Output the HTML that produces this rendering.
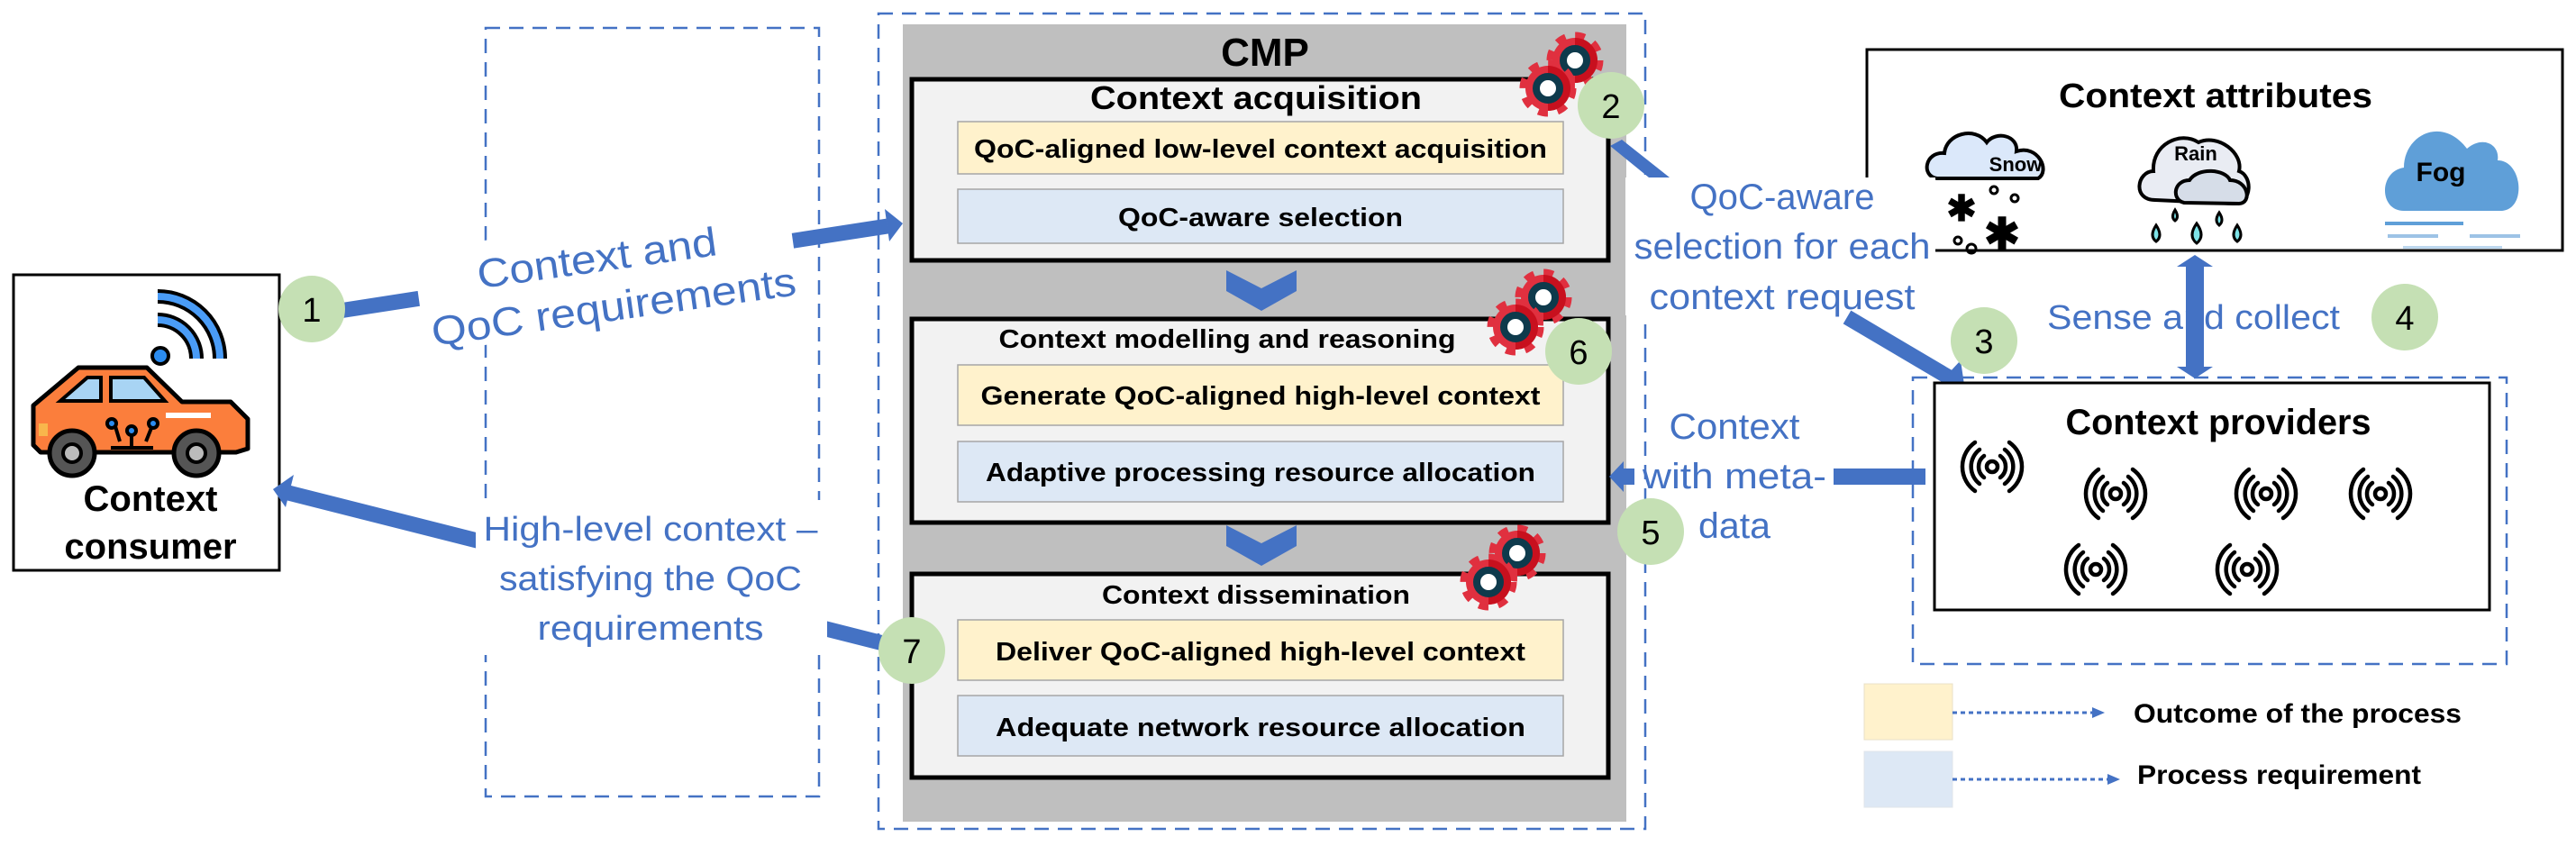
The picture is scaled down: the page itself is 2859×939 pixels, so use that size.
<!DOCTYPE html>
<html><head><meta charset="utf-8"><style>
html,body{margin:0;padding:0;background:#fff}
svg{display:block}
text{font-family:"Liberation Sans",sans-serif}
.b{font-weight:bold;fill:#000}
.bl{fill:#4472c4}
</style></head><body>
<svg width="2859" height="939" viewBox="0 0 2859 939" xmlns="http://www.w3.org/2000/svg">
<defs>
<g id="gear">
  <circle r="27" fill="none" stroke="#e0303f" stroke-width="9" stroke-dasharray="10.6 10.6"/>
  <circle r="25" fill="#e0303f"/>
  <path d="M0,-25 A25,25 0 0 1 0,25 Z" fill="#c8101e"/>
  <circle r="13" fill="#fff" stroke="#0e3a4c" stroke-width="8"/>
</g>
<g id="ant" fill="none" stroke="#000" stroke-width="4.5" stroke-linecap="round">
  <circle r="6"/>
  <path d="M9,-12 A15,15 0 0 1 9,12 M-9,-12 A15,15 0 0 0 -9,12"/>
  <path d="M14,-19 A24,24 0 0 1 14,19 M-14,-19 A24,24 0 0 0 -14,19"/>
  <path d="M19,-27 A33,33 0 0 1 19,27 M-19,-27 A33,33 0 0 0 -19,27"/>
</g>
</defs>

<!-- Left dashed box -->
<rect x="539" y="31" width="370" height="853" fill="none" stroke="#4472c4" stroke-width="2.5" stroke-dasharray="16 10"/>
<!-- CMP dashed box -->
<rect x="975" y="15" width="851" height="905" fill="none" stroke="#4472c4" stroke-width="2.5" stroke-dasharray="16 10"/>
<!-- gray panel -->
<rect x="1002" y="27" width="803" height="885" fill="#bfbfbf"/>
<text x="1404" y="73" class="b" font-size="44" text-anchor="middle">CMP</text>

<!-- Box 1 -->
<rect x="1012" y="88" width="773" height="201" fill="#f2f2f2" stroke="#000" stroke-width="5"/>
<text x="1394" y="121" class="b" font-size="36" text-anchor="middle" textLength="368" lengthAdjust="spacingAndGlyphs">Context acquisition</text>
<rect x="1063" y="135" width="672" height="58" fill="#fff2cc" stroke="#a6a6a6" stroke-width="1.5"/>
<text x="1399" y="175" class="b" font-size="29" text-anchor="middle" textLength="636" lengthAdjust="spacingAndGlyphs">QoC-aligned low-level context acquisition</text>
<rect x="1063" y="210" width="672" height="60" fill="#dde8f5" stroke="#a6a6a6" stroke-width="1.5"/>
<text x="1399" y="251" class="b" font-size="29" text-anchor="middle" textLength="316" lengthAdjust="spacingAndGlyphs">QoC-aware selection</text>

<!-- chevron 1 -->
<polygon points="1361,300 1400,320 1439,300 1439,323 1400,345 1361,323" fill="#4472c4"/>

<!-- Box 2 -->
<rect x="1012" y="354" width="773" height="226" fill="#f2f2f2" stroke="#000" stroke-width="5"/>
<text x="1362" y="386" class="b" font-size="29" text-anchor="middle" textLength="507" lengthAdjust="spacingAndGlyphs">Context modelling and reasoning</text>
<rect x="1063" y="405" width="672" height="67" fill="#fff2cc" stroke="#a6a6a6" stroke-width="1.5"/>
<text x="1399" y="449" class="b" font-size="29" text-anchor="middle" textLength="621" lengthAdjust="spacingAndGlyphs">Generate QoC-aligned high-level context</text>
<rect x="1063" y="490" width="672" height="67" fill="#dde8f5" stroke="#a6a6a6" stroke-width="1.5"/>
<text x="1399" y="534" class="b" font-size="29" text-anchor="middle" textLength="610" lengthAdjust="spacingAndGlyphs">Adaptive processing resource allocation</text>

<!-- chevron 2 -->
<polygon points="1361,583 1400,603 1439,583 1439,606 1400,628 1361,606" fill="#4472c4"/>

<!-- Box 3 -->
<rect x="1012" y="637" width="773" height="226" fill="#f2f2f2" stroke="#000" stroke-width="5"/>
<text x="1394" y="670" class="b" font-size="29" text-anchor="middle" textLength="342" lengthAdjust="spacingAndGlyphs">Context dissemination</text>
<rect x="1063" y="688" width="672" height="67" fill="#fff2cc" stroke="#a6a6a6" stroke-width="1.5"/>
<text x="1399" y="733" class="b" font-size="29" text-anchor="middle" textLength="588" lengthAdjust="spacingAndGlyphs">Deliver QoC-aligned high-level context</text>
<rect x="1063" y="772" width="672" height="67" fill="#dde8f5" stroke="#a6a6a6" stroke-width="1.5"/>
<text x="1399" y="817" class="b" font-size="29" text-anchor="middle" textLength="588" lengthAdjust="spacingAndGlyphs">Adequate network resource allocation</text>

<!-- gears -->
<use href="#gear" x="1748" y="67"/>
<use href="#gear" x="1718" y="98"/>
<use href="#gear" x="1713" y="330"/>
<use href="#gear" x="1682" y="363"/>
<use href="#gear" x="1684" y="614"/>
<use href="#gear" x="1652" y="646"/>

<!-- Consumer box -->
<rect x="15" y="305" width="295" height="328" fill="#fff" stroke="#000" stroke-width="3"/>
<!-- wifi -->
<circle cx="178" cy="395" r="9" fill="#2b8cf0" stroke="#000" stroke-width="4"/>
<path d="M175,329 A69,69 0 0 1 244,398" fill="none" stroke="#000" stroke-width="16"/>
<path d="M175,329 A69,69 0 0 1 244,398" fill="none" stroke="#4a9cf7" stroke-width="8"/>
<path d="M175,355 A43,43 0 0 1 218,398" fill="none" stroke="#000" stroke-width="16"/>
<path d="M175,355 A43,43 0 0 1 218,398" fill="none" stroke="#4a9cf7" stroke-width="8"/>
<!-- car -->
<path d="M37,450 L87,408 L163,408 L202,446 L256,446 L275,465 L275,498 L262,502 L45,502 L37,494 Z" fill="#fb7e3c" stroke="#000" stroke-width="5" stroke-linejoin="round"/>
<path d="M67,445 L97,419 L112,419 L112,445 Z" fill="#a8d4f4" stroke="#000" stroke-width="4"/>
<path d="M123,419 L160,419 L183,445 L123,445 Z" fill="#a8d4f4" stroke="#000" stroke-width="4"/>
<rect x="43" y="470" width="10" height="14" fill="#f8b64c"/>
<rect x="184" y="458" width="50" height="6" fill="#fff"/>
<g stroke="#000" stroke-width="4" fill="#2b8cf0">
<path d="M123,497 L170,497 M146,497 L146,478 M127,470 L133,490 M170,470 L162,490" fill="none"/>
<circle cx="124" cy="470" r="5"/><circle cx="146" cy="478" r="5"/><circle cx="170" cy="470" r="5"/>
</g>
<circle cx="80" cy="503" r="25" fill="#555" stroke="#000" stroke-width="5"/>
<circle cx="80" cy="503" r="10" fill="#bbb" stroke="#000" stroke-width="4"/>
<circle cx="218" cy="503" r="25" fill="#555" stroke="#000" stroke-width="5"/>
<circle cx="218" cy="503" r="10" fill="#bbb" stroke="#000" stroke-width="4"/>
<text x="167" y="567" class="b" font-size="40" text-anchor="middle">Context</text>
<text x="167" y="620" class="b" font-size="40" text-anchor="middle">consumer</text>

<!-- Arrow 1: consumer -> CMP -->
<line x1="370" y1="346" x2="985" y2="251" stroke="#4472c4" stroke-width="17"/>
<polygon points="1002,248 982,232 987,268" fill="#4472c4"/>
<!-- text bg -->
<g transform="rotate(-8 677 318)">
<rect x="465" y="248" width="420" height="115" fill="#fff"/>
<text x="667" y="300" class="bl" font-size="45" text-anchor="middle" textLength="268" lengthAdjust="spacingAndGlyphs">Context and</text>
<text x="678" y="356" class="bl" font-size="45" text-anchor="middle" textLength="408" lengthAdjust="spacingAndGlyphs">QoC requirements</text>
</g>

<!-- Arrow 7: CMP -> consumer -->
<line x1="1000" y1="719" x2="320" y2="547" stroke="#4472c4" stroke-width="17"/>
<polygon points="303,543 326,527 317,563" fill="#4472c4"/>
<rect x="528" y="555" width="390" height="172" fill="#fff"/>
<text x="722" y="600" class="bl" font-size="38" text-anchor="middle" textLength="371" lengthAdjust="spacingAndGlyphs">High-level context –</text>
<text x="722" y="655" class="bl" font-size="38" text-anchor="middle" textLength="336" lengthAdjust="spacingAndGlyphs">satisfying the QoC</text>
<text x="722" y="710" class="bl" font-size="38" text-anchor="middle" textLength="251" lengthAdjust="spacingAndGlyphs">requirements</text>

<!-- Context attributes box -->
<rect x="2072" y="55" width="772" height="223" fill="#fff" stroke="#000" stroke-width="3"/>
<text x="2459" y="119" class="b" font-size="38" text-anchor="middle" textLength="348" lengthAdjust="spacingAndGlyphs">Context attributes</text>
<!-- snow -->
<path d="M2150,198 C2132,196 2136,168 2158,170 C2160,148 2192,140 2205,158 C2215,145 2240,150 2238,168 C2262,160 2276,190 2262,198 Z" fill="#dbe8fa" stroke="#000" stroke-width="4"/>
<text x="2237" y="190" font-size="22" class="b" text-anchor="middle">Snow</text>
<text x="2177" y="245" font-size="40" class="b" text-anchor="middle">✱</text>
<text x="2222" y="276" font-size="48" class="b" text-anchor="middle">✱</text>
<circle cx="2213" cy="211" r="4" fill="none" stroke="#000" stroke-width="3"/>
<circle cx="2236" cy="220" r="4" fill="none" stroke="#000" stroke-width="3"/>
<circle cx="2173" cy="267" r="4" fill="none" stroke="#000" stroke-width="3"/>
<circle cx="2188" cy="276" r="5" fill="none" stroke="#000" stroke-width="3"/>
<!-- rain -->
<path d="M2392,222 C2366,222 2372,190 2390,190 C2388,160 2420,145 2440,158 C2462,148 2490,170 2485,190 C2500,195 2500,225 2480,226 Z" fill="#e9ecf3" stroke="#000" stroke-width="4"/>
<path d="M2424,225 C2410,222 2412,200 2430,200 C2440,185 2470,188 2475,200 C2495,200 2500,225 2485,226 Z" fill="#d6dde8" stroke="#000" stroke-width="4"/>
<text x="2437" y="178" font-size="22" class="b" text-anchor="middle">Rain</text>
<g fill="#7de3e8" stroke="#000" stroke-width="3">
<path d="M2393,250 q-8,12 0,18 q8,-6 0,-18z"/>
<path d="M2438,248 q-10,14 0,22 q10,-8 0,-22z"/>
<path d="M2483,250 q-8,12 0,18 q8,-6 0,-18z"/>
<path d="M2414,233 q-5,8 0,12 q5,-4 0,-12z"/>
<path d="M2463,236 q-6,9 0,14 q6,-5 0,-14z"/>
</g>
<!-- fog -->
<path d="M2668,234 C2640,234 2640,190 2668,186 C2668,150 2710,128 2738,165 C2755,150 2775,160 2772,178 C2800,178 2805,234 2775,234 Z" fill="#5f9fd8"/>
<text x="2709" y="201" class="b" font-size="30" text-anchor="middle">Fog</text>
<rect x="2647" y="246" width="87" height="4" fill="#5f9fd8"/>
<rect x="2650" y="260" width="56" height="4" fill="#9dc3e6"/>
<rect x="2741" y="260" width="56" height="4" fill="#9dc3e6"/>
<rect x="2667" y="273" width="110" height="3" fill="#bdd7ee"/>

<!-- QoC-aware label -->
<rect x="1804" y="197" width="344" height="153" fill="#fff"/>
<text x="1978" y="232" class="bl" font-size="40" text-anchor="middle" textLength="205" lengthAdjust="spacingAndGlyphs">QoC-aware</text>
<text x="1978" y="287" class="bl" font-size="40" text-anchor="middle" textLength="329" lengthAdjust="spacingAndGlyphs">selection for each</text>
<text x="1978" y="343" class="bl" font-size="40" text-anchor="middle" textLength="295" lengthAdjust="spacingAndGlyphs">context request</text>
<!-- arrow 2->3 pieces -->
<polygon points="1787,162 1800,155 1853,197 1830,197" fill="#4472c4"/>
<line x1="2050" y1="352" x2="2165" y2="420" stroke="#4472c4" stroke-width="17"/>
<polygon points="2180,427 2148,430 2176,400" fill="#4472c4"/>

<!-- Providers -->
<rect x="2123" y="419" width="659" height="318" fill="none" stroke="#4472c4" stroke-width="2.5" stroke-dasharray="16 10"/>
<rect x="2147" y="425" width="616" height="252" fill="#fff" stroke="#000" stroke-width="3"/>
<text x="2462" y="482" class="b" font-size="40" text-anchor="middle" textLength="339" lengthAdjust="spacingAndGlyphs">Context providers</text>
<use href="#ant" x="2211" y="518"/>
<use href="#ant" x="2348" y="548"/>
<use href="#ant" x="2515" y="548"/>
<use href="#ant" x="2642" y="548"/>
<use href="#ant" x="2326" y="632"/>
<use href="#ant" x="2494" y="632"/>

<!-- Sense and collect double arrow -->
<rect x="2426" y="294" width="20" height="115" fill="#4472c4"/>
<polygon points="2416,296 2436,283 2456,296" fill="#4472c4"/>
<polygon points="2416,407 2436,420 2456,407" fill="#4472c4"/>
<text x="2597" y="365" class="bl" font-size="38" text-anchor="end" textLength="325" lengthAdjust="spacingAndGlyphs">Sense and collect</text>

<!-- Context with meta-data -->
<rect x="2035" y="520" width="102" height="18" fill="#4472c4"/>
<rect x="1800" y="520" width="14" height="18" fill="#4472c4"/>
<polygon points="1786,529 1802,512 1802,546" fill="#4472c4"/>
<text x="1925" y="487" class="bl" font-size="40" text-anchor="middle" textLength="145" lengthAdjust="spacingAndGlyphs">Context</text>
<text x="1925" y="542" class="bl" font-size="40" text-anchor="middle" textLength="204" lengthAdjust="spacingAndGlyphs">with meta-</text>
<text x="1925" y="597" class="bl" font-size="40" text-anchor="middle" textLength="80" lengthAdjust="spacingAndGlyphs">data</text>

<!-- numbered circles -->
<g fill="#c5e0b4">
<circle cx="346" cy="343" r="37"/>
<circle cx="1788" cy="117" r="37"/>
<circle cx="2202" cy="378" r="37"/>
<circle cx="2669" cy="352" r="37"/>
<circle cx="1832" cy="590" r="37"/>
<circle cx="1752" cy="390" r="37"/>
<circle cx="1012" cy="722" r="37"/>
</g>
<g font-size="38" fill="#000" text-anchor="middle">
<text x="346" y="357">1</text>
<text x="1788" y="131">2</text>
<text x="2202" y="392">3</text>
<text x="2669" y="366">4</text>
<text x="1832" y="604">5</text>
<text x="1752" y="404">6</text>
<text x="1012" y="736">7</text>
</g>

<!-- Legend -->
<rect x="2069" y="759" width="98" height="62" fill="#fff2cc" stroke="#e8e0c8" stroke-width="1"/>
<rect x="2069" y="834" width="98" height="62" fill="#dde8f5" stroke="#e0e4ea" stroke-width="1"/>
<line x1="2167" y1="791" x2="2325" y2="791" stroke="#4472c4" stroke-width="3" stroke-dasharray="5 4"/>
<polygon points="2336,791 2322,785 2322,797" fill="#4472c4"/>
<line x1="2167" y1="865" x2="2342" y2="865" stroke="#4472c4" stroke-width="3" stroke-dasharray="5 4"/>
<polygon points="2353,865 2339,859 2339,871" fill="#4472c4"/>
<text x="2368" y="802" class="b" font-size="30" textLength="364" lengthAdjust="spacingAndGlyphs">Outcome of the process</text>
<text x="2372" y="870" class="b" font-size="30" textLength="315" lengthAdjust="spacingAndGlyphs">Process requirement</text>
</svg>
</body></html>
